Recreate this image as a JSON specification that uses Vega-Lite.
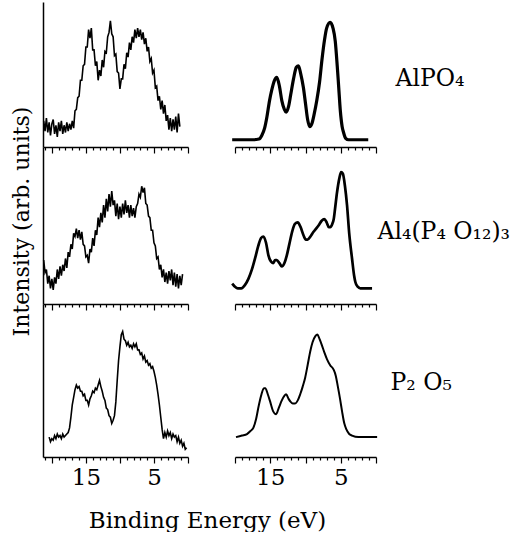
{
  "$schema": "https://vega.github.io/schema/vega-lite/v6.json",
  "padding": {"left": 9, "top": 2, "right": 0, "bottom": 0},
  "autosize": {"type": "pad"},
  "background": "white",
  "config": {
    "view": {"stroke": null},
    "font": "DejaVu Serif",
    "axis": {
      "grid": false,
      "domainColor": "black",
      "tickColor": "black",
      "labelColor": "black",
      "titleColor": "black",
      "labelFont": "DejaVu Serif",
      "titleFont": "DejaVu Serif",
      "titleFontWeight": "normal",
      "domainWidth": 1.5,
      "tickWidth": 1.2
    }
  },
  "datasets": {
    "exp1": [
      {"e":21.2,"v":0.18},{"e":21.0,"v":0.11},{"e":20.8,"v":0.20},{"e":20.6,"v":0.10},{"e":20.4,"v":0.17},{"e":20.2,"v":0.08},{"e":20.0,"v":0.16},{"e":19.8,"v":0.19},{"e":19.6,"v":0.09},{"e":19.4,"v":0.15},
      {"e":19.2,"v":0.07},{"e":19.0,"v":0.17},{"e":18.8,"v":0.11},{"e":18.6,"v":0.18},{"e":18.4,"v":0.09},{"e":18.2,"v":0.15},{"e":18.0,"v":0.10},{"e":17.8,"v":0.17},{"e":17.6,"v":0.11},{"e":17.4,"v":0.16},
      {"e":17.2,"v":0.12},{"e":17.0,"v":0.18},{"e":16.8,"v":0.13},{"e":16.6,"v":0.25},{"e":16.4,"v":0.26},{"e":16.2,"v":0.34},{"e":16.0,"v":0.35},{"e":15.8,"v":0.46},{"e":15.6,"v":0.46},{"e":15.4,"v":0.56},
      {"e":15.2,"v":0.57},{"e":15.0,"v":0.69},{"e":14.8,"v":0.69},{"e":14.6,"v":0.81},{"e":14.4,"v":0.75},{"e":14.2,"v":0.82},{"e":14.0,"v":0.67},{"e":13.8,"v":0.67},{"e":13.6,"v":0.56},{"e":13.4,"v":0.59},
      {"e":13.2,"v":0.46},{"e":13.0,"v":0.53},{"e":12.8,"v":0.49},{"e":12.6,"v":0.60},{"e":12.4,"v":0.55},{"e":12.2,"v":0.66},{"e":12.0,"v":0.65},{"e":11.8,"v":0.76},{"e":11.6,"v":0.79},{"e":11.4,"v":0.87},
      {"e":11.2,"v":0.78},{"e":11.0,"v":0.76},{"e":10.8,"v":0.63},{"e":10.6,"v":0.64},{"e":10.4,"v":0.52},{"e":10.2,"v":0.51},{"e":10.0,"v":0.40},{"e":9.8,"v":0.47},{"e":9.6,"v":0.47},{"e":9.4,"v":0.57},
      {"e":9.2,"v":0.54},{"e":9.0,"v":0.65},{"e":8.8,"v":0.62},{"e":8.6,"v":0.72},{"e":8.4,"v":0.67},{"e":8.2,"v":0.76},{"e":8.0,"v":0.72},{"e":7.8,"v":0.81},{"e":7.6,"v":0.75},{"e":7.4,"v":0.82},
      {"e":7.2,"v":0.76},{"e":7.0,"v":0.81},{"e":6.8,"v":0.74},{"e":6.6,"v":0.79},{"e":6.4,"v":0.71},{"e":6.2,"v":0.75},{"e":6.0,"v":0.66},{"e":5.8,"v":0.69},{"e":5.6,"v":0.59},{"e":5.4,"v":0.61},
      {"e":5.2,"v":0.51},{"e":5.0,"v":0.53},{"e":4.8,"v":0.41},{"e":4.6,"v":0.42},{"e":4.4,"v":0.32},{"e":4.2,"v":0.35},{"e":4.0,"v":0.26},{"e":3.8,"v":0.32},{"e":3.6,"v":0.23},{"e":3.4,"v":0.29},
      {"e":3.2,"v":0.18},{"e":3.0,"v":0.22},{"e":2.8,"v":0.12},{"e":2.6,"v":0.20},{"e":2.4,"v":0.11},{"e":2.2,"v":0.19},{"e":2.0,"v":0.12},{"e":1.8,"v":0.21},{"e":1.6,"v":0.10},{"e":1.4,"v":0.23},
      {"e":1.2,"v":0.14}
    ],
    "exp2": [
      {"e":21.2,"v":0.28},{"e":21.0,"v":0.20},{"e":20.8,"v":0.22},{"e":20.6,"v":0.13},{"e":20.4,"v":0.18},{"e":20.2,"v":0.10},{"e":20.0,"v":0.16},{"e":19.8,"v":0.09},{"e":19.6,"v":0.17},{"e":19.4,"v":0.13},
      {"e":19.2,"v":0.22},{"e":19.0,"v":0.16},{"e":18.8,"v":0.24},{"e":18.6,"v":0.18},{"e":18.4,"v":0.25},{"e":18.2,"v":0.21},{"e":18.0,"v":0.29},{"e":17.8,"v":0.23},{"e":17.6,"v":0.33},{"e":17.4,"v":0.30},
      {"e":17.2,"v":0.38},{"e":17.0,"v":0.35},{"e":16.8,"v":0.45},{"e":16.6,"v":0.43},{"e":16.4,"v":0.48},{"e":16.2,"v":0.42},{"e":16.0,"v":0.47},{"e":15.8,"v":0.41},{"e":15.6,"v":0.46},{"e":15.4,"v":0.38},
      {"e":15.2,"v":0.37},{"e":15.0,"v":0.30},{"e":14.8,"v":0.31},{"e":14.6,"v":0.26},{"e":14.4,"v":0.35},{"e":14.2,"v":0.33},{"e":14.0,"v":0.42},{"e":13.8,"v":0.37},{"e":13.6,"v":0.47},{"e":13.4,"v":0.44},
      {"e":13.2,"v":0.55},{"e":13.0,"v":0.49},{"e":12.8,"v":0.58},{"e":12.6,"v":0.52},{"e":12.4,"v":0.63},{"e":12.2,"v":0.55},{"e":12.0,"v":0.67},{"e":11.8,"v":0.59},{"e":11.6,"v":0.70},{"e":11.4,"v":0.62},
      {"e":11.2,"v":0.72},{"e":11.0,"v":0.63},{"e":10.8,"v":0.66},{"e":10.6,"v":0.56},{"e":10.4,"v":0.64},{"e":10.2,"v":0.54},{"e":10.0,"v":0.62},{"e":9.8,"v":0.55},{"e":9.6,"v":0.64},{"e":9.4,"v":0.57},
      {"e":9.2,"v":0.66},{"e":9.0,"v":0.58},{"e":8.8,"v":0.63},{"e":8.6,"v":0.55},{"e":8.4,"v":0.63},{"e":8.2,"v":0.56},{"e":8.0,"v":0.61},{"e":7.8,"v":0.55},{"e":7.6,"v":0.62},{"e":7.4,"v":0.64},
      {"e":7.2,"v":0.70},{"e":7.0,"v":0.68},{"e":6.8,"v":0.75},{"e":6.6,"v":0.71},{"e":6.4,"v":0.74},{"e":6.2,"v":0.64},{"e":6.0,"v":0.63},{"e":5.8,"v":0.56},{"e":5.6,"v":0.55},{"e":5.4,"v":0.47},
      {"e":5.2,"v":0.47},{"e":5.0,"v":0.39},{"e":4.8,"v":0.37},{"e":4.6,"v":0.29},{"e":4.4,"v":0.30},{"e":4.2,"v":0.22},{"e":4.0,"v":0.25},{"e":3.8,"v":0.17},{"e":3.6,"v":0.22},{"e":3.4,"v":0.14},
      {"e":3.2,"v":0.20},{"e":3.0,"v":0.13},{"e":2.8,"v":0.21},{"e":2.6,"v":0.15},{"e":2.4,"v":0.22},{"e":2.2,"v":0.12},{"e":2.0,"v":0.20},{"e":1.8,"v":0.11},{"e":1.6,"v":0.19},{"e":1.4,"v":0.10},
      {"e":1.2,"v":0.18},{"e":1.0,"v":0.12},{"e":0.8,"v":0.19}
    ],
    "exp3": [
      {"e":20.4,"v":0.13},{"e":20.2,"v":0.10},{"e":20.0,"v":0.12},{"e":19.8,"v":0.11},{"e":19.6,"v":0.14},{"e":19.4,"v":0.12},{"e":19.2,"v":0.15},{"e":19.0,"v":0.13},{"e":18.8,"v":0.14},{"e":18.6,"v":0.12},
      {"e":18.4,"v":0.15},{"e":18.2,"v":0.13},{"e":18.0,"v":0.14},{"e":17.8,"v":0.15},{"e":17.6,"v":0.16},{"e":17.4,"v":0.19},{"e":17.2,"v":0.26},{"e":17.0,"v":0.34},{"e":16.8,"v":0.39},{"e":16.6,"v":0.44},
      {"e":16.4,"v":0.47},{"e":16.2,"v":0.45},{"e":16.0,"v":0.46},{"e":15.8,"v":0.43},{"e":15.6,"v":0.43},{"e":15.4,"v":0.40},{"e":15.2,"v":0.41},{"e":15.0,"v":0.37},{"e":14.8,"v":0.37},{"e":14.6,"v":0.34},
      {"e":14.4,"v":0.38},{"e":14.2,"v":0.40},{"e":14.0,"v":0.43},{"e":13.8,"v":0.42},{"e":13.6,"v":0.45},{"e":13.4,"v":0.44},{"e":13.2,"v":0.47},{"e":13.0,"v":0.50},{"e":12.8,"v":0.46},{"e":12.6,"v":0.43},
      {"e":12.4,"v":0.39},{"e":12.2,"v":0.37},{"e":12.0,"v":0.32},{"e":11.8,"v":0.31},{"e":11.6,"v":0.27},{"e":11.4,"v":0.26},{"e":11.2,"v":0.22},{"e":11.0,"v":0.24},{"e":10.8,"v":0.27},{"e":10.6,"v":0.36},
      {"e":10.4,"v":0.50},{"e":10.2,"v":0.63},{"e":10.0,"v":0.72},{"e":9.8,"v":0.80},{"e":9.6,"v":0.82},{"e":9.4,"v":0.77},{"e":9.2,"v":0.76},{"e":9.0,"v":0.73},{"e":8.8,"v":0.75},{"e":8.6,"v":0.72},
      {"e":8.4,"v":0.73},{"e":8.2,"v":0.71},{"e":8.0,"v":0.74},{"e":7.8,"v":0.72},{"e":7.6,"v":0.74},{"e":7.4,"v":0.70},{"e":7.2,"v":0.70},{"e":7.0,"v":0.67},{"e":6.8,"v":0.68},{"e":6.6,"v":0.64},
      {"e":6.4,"v":0.66},{"e":6.2,"v":0.62},{"e":6.0,"v":0.63},{"e":5.8,"v":0.60},{"e":5.6,"v":0.61},{"e":5.4,"v":0.58},{"e":5.2,"v":0.59},{"e":5.0,"v":0.56},{"e":4.8,"v":0.52},{"e":4.6,"v":0.47},
      {"e":4.4,"v":0.41},{"e":4.2,"v":0.34},{"e":4.0,"v":0.26},{"e":3.8,"v":0.18},{"e":3.6,"v":0.12},{"e":3.4,"v":0.16},{"e":3.2,"v":0.13},{"e":3.0,"v":0.17},{"e":2.8,"v":0.14},{"e":2.6,"v":0.16},
      {"e":2.4,"v":0.12},{"e":2.2,"v":0.15},{"e":2.0,"v":0.13},{"e":1.8,"v":0.14},{"e":1.6,"v":0.10},{"e":1.4,"v":0.13},{"e":1.2,"v":0.09},{"e":1.0,"v":0.11},{"e":0.8,"v":0.07},{"e":0.6,"v":0.09},
      {"e":0.4,"v":0.05},{"e":0.2,"v":0.06}
    ],
    "calc1": [
      {"e":20.4,"v":0.05},{"e":19.0,"v":0.05},{"e":17.5,"v":0.05},{"e":16.6,"v":0.055},{"e":16.2,"v":0.08},{"e":15.8,"v":0.13},{"e":15.5,"v":0.20},{"e":15.1,"v":0.32},{"e":14.8,"v":0.39},{"e":14.4,"v":0.46},
      {"e":14.07,"v":0.48},{"e":13.7,"v":0.42},{"e":13.36,"v":0.32},{"e":13.0,"v":0.26},{"e":12.75,"v":0.24},{"e":12.4,"v":0.28},{"e":12.1,"v":0.36},{"e":11.7,"v":0.47},{"e":11.3,"v":0.55},{"e":11.0,"v":0.56},
      {"e":10.7,"v":0.51},{"e":10.3,"v":0.41},{"e":10.0,"v":0.30},{"e":9.7,"v":0.19},{"e":9.4,"v":0.14},{"e":9.1,"v":0.16},{"e":8.8,"v":0.22},{"e":8.4,"v":0.32},{"e":8.0,"v":0.45},{"e":7.67,"v":0.60},
      {"e":7.3,"v":0.74},{"e":7.0,"v":0.82},{"e":6.5,"v":0.86},{"e":6.1,"v":0.82},{"e":5.78,"v":0.73},{"e":5.5,"v":0.56},{"e":5.3,"v":0.42},{"e":5.06,"v":0.25},{"e":4.8,"v":0.14},{"e":4.6,"v":0.10},
      {"e":4.3,"v":0.06},{"e":3.9,"v":0.05},{"e":3.0,"v":0.05},{"e":1.1,"v":0.05}
    ],
    "calc2": [
      {"e":20.4,"v":0.13},{"e":20.0,"v":0.11},{"e":19.6,"v":0.10},{"e":19.1,"v":0.10},{"e":18.6,"v":0.12},{"e":18.1,"v":0.16},{"e":17.6,"v":0.22},{"e":17.1,"v":0.30},{"e":16.7,"v":0.37},{"e":16.3,"v":0.42},
      {"e":15.97,"v":0.43},{"e":15.6,"v":0.39},{"e":15.26,"v":0.31},{"e":14.9,"v":0.27},{"e":14.6,"v":0.26},{"e":14.3,"v":0.28},{"e":14.07,"v":0.28},{"e":13.7,"v":0.26},{"e":13.36,"v":0.24},{"e":13.0,"v":0.26},
      {"e":12.65,"v":0.31},{"e":12.3,"v":0.38},{"e":11.9,"v":0.46},{"e":11.5,"v":0.51},{"e":11.1,"v":0.52},{"e":10.7,"v":0.49},{"e":10.3,"v":0.44},{"e":9.95,"v":0.41},{"e":9.7,"v":0.41},{"e":9.3,"v":0.43},
      {"e":8.86,"v":0.46},{"e":8.5,"v":0.48},{"e":8.15,"v":0.50},{"e":7.7,"v":0.53},{"e":7.34,"v":0.54},{"e":7.0,"v":0.52},{"e":6.7,"v":0.49},{"e":6.49,"v":0.49},{"e":6.2,"v":0.51},{"e":6.0,"v":0.54},
      {"e":5.8,"v":0.61},{"e":5.53,"v":0.71},{"e":5.2,"v":0.80},{"e":4.95,"v":0.84},{"e":4.7,"v":0.83},{"e":4.4,"v":0.75},{"e":4.11,"v":0.63},{"e":3.8,"v":0.45},{"e":3.4,"v":0.29},{"e":3.1,"v":0.18},
      {"e":2.93,"v":0.14},{"e":2.6,"v":0.11},{"e":2.22,"v":0.10},{"e":1.5,"v":0.10},{"e":0.56,"v":0.10}
    ],
    "calc3": [
      {"e":19.86,"v":0.13},{"e":19.0,"v":0.14},{"e":18.3,"v":0.15},{"e":17.8,"v":0.17},{"e":17.4,"v":0.19},{"e":17.0,"v":0.25},{"e":16.7,"v":0.32},{"e":16.3,"v":0.40},{"e":15.9,"v":0.45},{"e":15.7,"v":0.45},
      {"e":15.35,"v":0.41},{"e":15.0,"v":0.36},{"e":14.6,"v":0.30},{"e":14.17,"v":0.28},{"e":13.8,"v":0.32},{"e":13.36,"v":0.37},{"e":13.0,"v":0.40},{"e":12.75,"v":0.41},{"e":12.4,"v":0.38},{"e":12.1,"v":0.36},
      {"e":11.8,"v":0.35},{"e":11.46,"v":0.35},{"e":11.1,"v":0.37},{"e":10.75,"v":0.41},{"e":10.4,"v":0.46},{"e":10.04,"v":0.52},{"e":9.7,"v":0.60},{"e":9.33,"v":0.69},{"e":9.0,"v":0.75},{"e":8.6,"v":0.79},
      {"e":8.3,"v":0.80},{"e":8.0,"v":0.77},{"e":7.67,"v":0.73},{"e":7.3,"v":0.68},{"e":6.96,"v":0.64},{"e":6.5,"v":0.60},{"e":6.0,"v":0.57},{"e":5.7,"v":0.53},{"e":5.45,"v":0.47},{"e":5.1,"v":0.38},
      {"e":4.82,"v":0.30},{"e":4.5,"v":0.22},{"e":4.2,"v":0.18},{"e":3.8,"v":0.15},{"e":3.4,"v":0.14},{"e":2.5,"v":0.13},{"e":1.0,"v":0.13},{"e":-0.16,"v":0.13}
    ]
  },
  "columns": 2,
  "bounds": "flush",
  "spacing": {"row": 0, "column": 47},
  "concat": [
    {
      "width": 145, "height": 145,
      "data": {"name": "exp1"},
      "mark": {"type": "line", "color": "black", "strokeWidth": 1.6, "clip": false},
      "encoding": {
        "x": {"field": "e", "type": "quantitative", "scale": {"domain": [0, 21.3], "reverse": true, "nice": false, "zero": false},
              "axis": {"values": [0,1,2,3,4,5,6,7,8,9,10,11,12,13,14,15,16,17,18,19,20,21], "labels": false, "title": null,
                       "tickSize": {"condition": {"test": "datum.value % 5 === 0", "value": 6}, "value": 3}}},
        "y": {"field": "v", "type": "quantitative", "scale": {"domain": [0, 1], "nice": false},
              "axis": {"title": null, "ticks": false, "labels": false, "domain": true}}
      }
    },
    {
      "width": 141, "height": 145,
      "data": {"name": "calc1"},
      "mark": {"type": "line", "color": "black", "strokeWidth": 3.2, "interpolate": "monotone", "clip": false},
      "encoding": {
        "x": {"field": "e", "type": "quantitative", "scale": {"domain": [0, 20], "reverse": true, "nice": false, "zero": false},
              "axis": {"values": [0,1,2,3,4,5,6,7,8,9,10,11,12,13,14,15,16,17,18,19,20], "labels": false, "title": null,
                       "tickSize": {"condition": {"test": "datum.value % 5 === 0", "value": 6}, "value": 3}}},
        "y": {"field": "v", "type": "quantitative", "scale": {"domain": [0, 1], "nice": false},
              "axis": {"orient": "right", "domain": false, "ticks": false, "labels": false, "title": "AlPO₄",
                       "titleAngle": 0, "titleAlign": "left", "titleBaseline": "middle", "titlePadding": 19,
                       "titleFontSize": 23.5, "titleY": 76}}
      }
    },
    {
      "width": 145, "height": 157,
      "data": {"name": "exp2"},
      "mark": {"type": "line", "color": "black", "strokeWidth": 1.6, "clip": false},
      "encoding": {
        "x": {"field": "e", "type": "quantitative", "scale": {"domain": [0, 21.3], "reverse": true, "nice": false, "zero": false},
              "axis": {"values": [0,1,2,3,4,5,6,7,8,9,10,11,12,13,14,15,16,17,18,19,20,21], "labels": false, "title": null,
                       "tickSize": {"condition": {"test": "datum.value % 5 === 0", "value": 6}, "value": 3}}},
        "y": {"field": "v", "type": "quantitative", "scale": {"domain": [0, 1], "nice": false},
              "axis": {"title": "Intensity (arb. units)", "ticks": false, "labels": false, "domain": true,
                       "titleFontSize": 22, "titlePadding": 10, "titleY": 74}}
      }
    },
    {
      "width": 141, "height": 157,
      "data": {"name": "calc2"},
      "mark": {"type": "line", "color": "black", "strokeWidth": 2.7, "interpolate": "monotone", "clip": false},
      "encoding": {
        "x": {"field": "e", "type": "quantitative", "scale": {"domain": [0, 20], "reverse": true, "nice": false, "zero": false},
              "axis": {"values": [0,1,2,3,4,5,6,7,8,9,10,11,12,13,14,15,16,17,18,19,20], "labels": false, "title": null,
                       "tickSize": {"condition": {"test": "datum.value % 5 === 0", "value": 6}, "value": 3}}},
        "y": {"field": "v", "type": "quantitative", "scale": {"domain": [0, 1], "nice": false},
              "axis": {"orient": "right", "domain": false, "ticks": false, "labels": false, "title": "Al₄(P₄ O₁₂)₃",
                       "titleAngle": 0, "titleAlign": "left", "titleBaseline": "middle", "titlePadding": 1,
                       "titleFontSize": 23.5, "titleY": 84}}
      }
    },
    {
      "width": 145, "height": 153,
      "data": {"name": "exp3"},
      "mark": {"type": "line", "color": "black", "strokeWidth": 1.6, "clip": false},
      "encoding": {
        "x": {"field": "e", "type": "quantitative", "scale": {"domain": [0, 21.3], "reverse": true, "nice": false, "zero": false},
              "axis": {"values": [0,1,2,3,4,5,6,7,8,9,10,11,12,13,14,15,16,17,18,19,20,21],
                       "labelExpr": "datum.value === 15 || datum.value === 5 ? datum.label : ''",
                       "labelFontSize": 23, "labelPadding": 3,
                       "title": "Binding Energy (eV)", "titleFontSize": 23, "titleX": 164, "titlePadding": 20,
                       "tickSize": {"condition": {"test": "datum.value % 5 === 0", "value": 6}, "value": 3}}},
        "y": {"field": "v", "type": "quantitative", "scale": {"domain": [0, 1], "nice": false},
              "axis": {"title": null, "ticks": false, "labels": false, "domain": true}}
      }
    },
    {
      "width": 141, "height": 153,
      "data": {"name": "calc3"},
      "mark": {"type": "line", "color": "black", "strokeWidth": 2.0, "interpolate": "monotone", "clip": false},
      "encoding": {
        "x": {"field": "e", "type": "quantitative", "scale": {"domain": [0, 20], "reverse": true, "nice": false, "zero": false},
              "axis": {"values": [0,1,2,3,4,5,6,7,8,9,10,11,12,13,14,15,16,17,18,19,20],
                       "labelExpr": "datum.value === 15 || datum.value === 5 ? datum.label : ''",
                       "labelFontSize": 23, "labelPadding": 3, "title": null,
                       "tickSize": {"condition": {"test": "datum.value % 5 === 0", "value": 6}, "value": 3}}},
        "y": {"field": "v", "type": "quantitative", "scale": {"domain": [0, 1], "nice": false},
              "axis": {"orient": "right", "domain": false, "ticks": false, "labels": false, "title": "P₂ O₅",
                       "titleAngle": 0, "titleAlign": "left", "titleBaseline": "middle", "titlePadding": 14,
                       "titleFontSize": 23.5, "titleY": 78}}
      }
    }
  ]
}
